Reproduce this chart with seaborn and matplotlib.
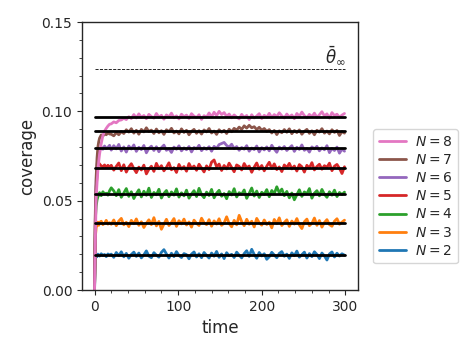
import numpy as np
import pandas as pd
import matplotlib
matplotlib.use("Agg")
import matplotlib.pyplot as plt
import seaborn as sns
from matplotlib.ticker import MultipleLocator

# ---------------- data ----------------
time_early = [0, 1, 2, 3, 4, 5, 6, 8, 10, 12, 14, 16, 18]
time_late = list(range(20, 300, 3))
time = time_early + time_late

N_values = [2, 3, 4, 5, 6, 7, 8]
colors = ["#1f77b4", "#ff7f0e", "#2ca02c", "#d62728", "#9467bd", "#8c564b", "#e377c2"]
mean_coverage = [0.0196, 0.0375, 0.0537, 0.0683, 0.0795, 0.0890, 0.0968]
theta_inf = 0.1237

cov_N2 = [0.0, 0.0170, 0.0192, 0.0188, 0.0201, 0.0195, 0.0190, 0.0203, 0.0194, 0.0199, 0.0187, 0.0202, 0.0196,
          0.0201, 0.0183, 0.0210, 0.0192, 0.0214, 0.0186, 0.0205, 0.0178, 0.0199, 0.0212,
          0.0188, 0.0207, 0.0180, 0.0197, 0.0219, 0.0190, 0.0181, 0.0209, 0.0195, 0.0184,
          0.0211, 0.0226, 0.0202, 0.0179, 0.0206, 0.0187, 0.0215, 0.0193, 0.0182, 0.0204,
          0.0198, 0.0175, 0.0201, 0.0213, 0.0185, 0.0203, 0.0181, 0.0210, 0.0194, 0.0179,
          0.0207, 0.0189, 0.0216, 0.0183, 0.0202, 0.0176, 0.0209, 0.0192, 0.0200, 0.0182,
          0.0212, 0.0195, 0.0180, 0.0204, 0.0220, 0.0188, 0.0228, 0.0199, 0.0178, 0.0210,
          0.0191, 0.0203, 0.0172, 0.0186, 0.0211, 0.0196, 0.0181, 0.0205, 0.0215, 0.0189,
          0.0201, 0.0177, 0.0208, 0.0192, 0.0218, 0.0184, 0.0198, 0.0212, 0.0179, 0.0204,
          0.0187, 0.0214, 0.0199, 0.0176, 0.0207, 0.0191, 0.0168, 0.0202, 0.0213, 0.0185,
          0.0206, 0.0190, 0.0203, 0.0195]

cov_N3 = [0.0, 0.0300, 0.0350, 0.0368, 0.0380, 0.0362, 0.0378, 0.0385, 0.0366, 0.0374, 0.0390, 0.0369, 0.0377,
          0.0368, 0.0392, 0.0360, 0.0386, 0.0401, 0.0365, 0.0379, 0.0355, 0.0390, 0.0371,
          0.0398, 0.0362, 0.0382, 0.0350, 0.0374, 0.0393, 0.0366, 0.0405, 0.0359, 0.0384,
          0.0340, 0.0369, 0.0396, 0.0361, 0.0378, 0.0400, 0.0356, 0.0388, 0.0370, 0.0397,
          0.0364, 0.0381, 0.0352, 0.0391, 0.0373, 0.0361, 0.0402, 0.0377, 0.0366, 0.0394,
          0.0357, 0.0387, 0.0369, 0.0399, 0.0362, 0.0375, 0.0410, 0.0372, 0.0354, 0.0390,
          0.0365, 0.0418, 0.0383, 0.0360, 0.0396, 0.0368, 0.0385, 0.0353, 0.0401, 0.0376,
          0.0363, 0.0392, 0.0367, 0.0380, 0.0348, 0.0395, 0.0371, 0.0404, 0.0361, 0.0378,
          0.0393, 0.0356, 0.0386, 0.0369, 0.0400, 0.0364, 0.0344, 0.0382, 0.0397, 0.0360,
          0.0373, 0.0403, 0.0362, 0.0389, 0.0352, 0.0378, 0.0394, 0.0366, 0.0357, 0.0385,
          0.0399, 0.0368, 0.0380, 0.0391]

cov_N4 = [0.0, 0.0400, 0.0470, 0.0505, 0.0522, 0.0530, 0.0545, 0.0528, 0.0550, 0.0538, 0.0542, 0.0531, 0.0556,
          0.0572, 0.0555, 0.0528, 0.0562, 0.0519, 0.0543, 0.0568, 0.0524, 0.0550, 0.0512,
          0.0539, 0.0561, 0.0521, 0.0553, 0.0530, 0.0570, 0.0518, 0.0546, 0.0533, 0.0564,
          0.0515, 0.0541, 0.0557, 0.0522, 0.0549, 0.0531, 0.0566, 0.0520, 0.0544, 0.0527,
          0.0559, 0.0514, 0.0538, 0.0556, 0.0523, 0.0569, 0.0534, 0.0517, 0.0548, 0.0529,
          0.0563, 0.0516, 0.0542, 0.0558, 0.0525, 0.0540, 0.0511, 0.0551, 0.0532, 0.0567,
          0.0521, 0.0545, 0.0536, 0.0560, 0.0513, 0.0541, 0.0571, 0.0526, 0.0554, 0.0518,
          0.0547, 0.0535, 0.0562, 0.0522, 0.0557, 0.0539, 0.0578, 0.0544, 0.0565, 0.0528,
          0.0552, 0.0516, 0.0543, 0.0505, 0.0533, 0.0561, 0.0524, 0.0549, 0.0538, 0.0568,
          0.0514, 0.0542, 0.0556, 0.0527, 0.0563, 0.0536, 0.0519, 0.0550, 0.0531, 0.0559,
          0.0523, 0.0546, 0.0534, 0.0548]

cov_N5 = [0.0, 0.0450, 0.0580, 0.0640, 0.0690, 0.0712, 0.0705, 0.0695, 0.0690, 0.0700, 0.0685, 0.0698, 0.0688,
          0.0698, 0.0671, 0.0692, 0.0711, 0.0668, 0.0701, 0.0660, 0.0689, 0.0707, 0.0680,
          0.0657, 0.0688, 0.0672, 0.0699, 0.0650, 0.0676, 0.0693, 0.0664, 0.0709, 0.0679,
          0.0696, 0.0667, 0.0687, 0.0712, 0.0673, 0.0685, 0.0658, 0.0703, 0.0677, 0.0691,
          0.0665, 0.0708, 0.0681, 0.0694, 0.0670, 0.0704, 0.0683, 0.0661, 0.0695, 0.0674,
          0.0716, 0.0728, 0.0690, 0.0705, 0.0669, 0.0697, 0.0678, 0.0710, 0.0686, 0.0662,
          0.0700, 0.0692, 0.0672, 0.0708, 0.0684, 0.0694, 0.0659, 0.0688, 0.0711, 0.0676,
          0.0697, 0.0667, 0.0693, 0.0715, 0.0680, 0.0706, 0.0674, 0.0689, 0.0663, 0.0700,
          0.0685, 0.0709, 0.0678, 0.0694, 0.0666, 0.0702, 0.0690, 0.0660, 0.0698, 0.0683,
          0.0713, 0.0672, 0.0691, 0.0704, 0.0676, 0.0696, 0.0687, 0.0710, 0.0668, 0.0693,
          0.0703, 0.0681, 0.0652, 0.0690]

cov_N6 = [0.0, 0.0450, 0.0620, 0.0700, 0.0740, 0.0765, 0.0778, 0.0800, 0.0788, 0.0806, 0.0792, 0.0799, 0.0810,
          0.0783, 0.0808, 0.0790, 0.0815, 0.0778, 0.0801, 0.0772, 0.0806, 0.0789, 0.0812,
          0.0776, 0.0799, 0.0786, 0.0809, 0.0768, 0.0793, 0.0805, 0.0781, 0.0802, 0.0774,
          0.0797, 0.0811, 0.0782, 0.0791, 0.0770, 0.0800, 0.0788, 0.0807, 0.0779, 0.0796,
          0.0785, 0.0803, 0.0773, 0.0798, 0.0790, 0.0810, 0.0780, 0.0797, 0.0787, 0.0802,
          0.0777, 0.0804, 0.0793, 0.0814, 0.0820, 0.0826, 0.0809, 0.0800, 0.0816, 0.0791,
          0.0803, 0.0782, 0.0798, 0.0788, 0.0808, 0.0777, 0.0795, 0.0786, 0.0806, 0.0773,
          0.0797, 0.0784, 0.0801, 0.0779, 0.0810, 0.0789, 0.0771, 0.0800, 0.0788, 0.0803,
          0.0781, 0.0795, 0.0808, 0.0776, 0.0799, 0.0787, 0.0812, 0.0782, 0.0793, 0.0772,
          0.0801, 0.0790, 0.0804, 0.0779, 0.0796, 0.0785, 0.0808, 0.0769, 0.0793, 0.0781,
          0.0800, 0.0766, 0.0789, 0.0777]

cov_N7 = [0.0, 0.0420, 0.0640, 0.0740, 0.0800, 0.0830, 0.0850, 0.0868, 0.0862, 0.0875, 0.0869, 0.0880, 0.0873,
          0.0872, 0.0863, 0.0881, 0.0869, 0.0887, 0.0876, 0.0897, 0.0884, 0.0903, 0.0878,
          0.0894, 0.0872, 0.0899, 0.0885, 0.0908, 0.0887, 0.0895, 0.0876, 0.0901, 0.0880,
          0.0892, 0.0871, 0.0897, 0.0886, 0.0905, 0.0879, 0.0890, 0.0874, 0.0902, 0.0882,
          0.0894, 0.0869, 0.0888, 0.0899, 0.0877, 0.0892, 0.0873, 0.0896, 0.0885, 0.0904,
          0.0879, 0.0890, 0.0871, 0.0897, 0.0883, 0.0894, 0.0876, 0.0900, 0.0886, 0.0905,
          0.0895, 0.0912, 0.0899, 0.0919, 0.0906, 0.0922, 0.0908, 0.0914, 0.0898, 0.0911,
          0.0894, 0.0904, 0.0888, 0.0898, 0.0879, 0.0893, 0.0870, 0.0891, 0.0880, 0.0898,
          0.0883, 0.0902, 0.0875, 0.0893, 0.0881, 0.0896, 0.0872, 0.0888, 0.0899, 0.0877,
          0.0891, 0.0869, 0.0894, 0.0884, 0.0903, 0.0878, 0.0890, 0.0874, 0.0897, 0.0882,
          0.0893, 0.0865, 0.0887, 0.0878]

cov_N8 = [0.0, 0.0300, 0.0520, 0.0600, 0.0670, 0.0720, 0.0760, 0.0820, 0.0865, 0.0890, 0.0905, 0.0918, 0.0928,
          0.0930, 0.0941, 0.0936, 0.0949, 0.0952, 0.0961, 0.0954, 0.0970, 0.0960, 0.0982,
          0.0963, 0.0986, 0.0966, 0.0977, 0.0959, 0.0983, 0.0971, 0.0962, 0.0988, 0.0967,
          0.0978, 0.0956, 0.0980, 0.0969, 0.0990, 0.0964, 0.0975, 0.0958, 0.0984, 0.0970,
          0.0979, 0.0960, 0.0987, 0.0973, 0.0965, 0.0981, 0.0955, 0.0976, 0.0967, 0.0991,
          0.0969, 0.0995, 0.0976, 0.1000, 0.0982, 0.0993, 0.0972, 0.0985, 0.0964, 0.0980,
          0.0968, 0.0958, 0.0983, 0.0966, 0.0977, 0.0954, 0.0981, 0.0963, 0.0974, 0.0987,
          0.0960, 0.0978, 0.0967, 0.0989, 0.0965, 0.0982, 0.0970, 0.0992, 0.0975, 0.0963,
          0.0985, 0.0968, 0.0980, 0.0959, 0.0988, 0.0972, 0.0996, 0.0976, 0.0964, 0.0983,
          0.0970, 0.0990, 0.0966, 0.0981, 0.0998, 0.0974, 0.0986, 0.0962, 0.0993, 0.0976,
          0.0984, 0.0967, 0.0979, 0.0988]

series = [cov_N2, cov_N3, cov_N4, cov_N5, cov_N6, cov_N7, cov_N8]

# ---------------- figure ----------------
sns.set_style("ticks")
plt.rcParams["font.family"] = ["DejaVu Sans"]

fig = plt.figure(figsize=(4.74, 3.55), dpi=100)
ax = fig.add_axes([0.173, 0.183, 0.582, 0.755])

for n, c, vals in zip(N_values, colors, series):
    k = min(len(vals), len(time))
    df = pd.DataFrame({"time": time[:k], "coverage": vals[:k]})
    sns.lineplot(data=df, x="time", y="coverage", color=c, lw=2.0, ax=ax,
                 label=f"$N={n}$", estimator=None, sort=False)

for m in mean_coverage:
    sns.lineplot(x=[0, 300], y=[m, m], color="black", lw=2.0, ax=ax, legend=False)

sns.lineplot(x=[0, 300], y=[theta_inf, theta_inf], color="black", lw=0.6,
             linestyle="--", ax=ax, legend=False)
ax.text(300, theta_inf + 0.0012, r"$\bar{\theta}_\infty$", ha="right", va="bottom",
        fontsize=12)

ax.set_xlim(-15, 315)
ax.set_ylim(0, 0.15)
ax.set_xticks([0, 100, 200, 300])
ax.set_yticks([0.0, 0.05, 0.10, 0.15])
ax.set_yticklabels(["0.00", "0.05", "0.10", "0.15"])
ax.xaxis.set_minor_locator(MultipleLocator(20))
ax.yaxis.set_minor_locator(MultipleLocator(0.01))
ax.tick_params(labelsize=10)
ax.set_xlabel("time", fontsize=12)
ax.set_ylabel("coverage", fontsize=12)
for s in ax.spines.values():
    s.set_visible(True)
    s.set_linewidth(1.0)

h, l = ax.get_legend_handles_labels()
for hh in h:
    hh.set_linewidth(2.0)
ax.legend(h[::-1], l[::-1], loc="center left", bbox_to_anchor=(1.03, 0.35),
          fontsize=10, frameon=True, handlelength=2.0, labelspacing=0.3,
          handletextpad=0.6)

fig.savefig("out.png", dpi=100)
